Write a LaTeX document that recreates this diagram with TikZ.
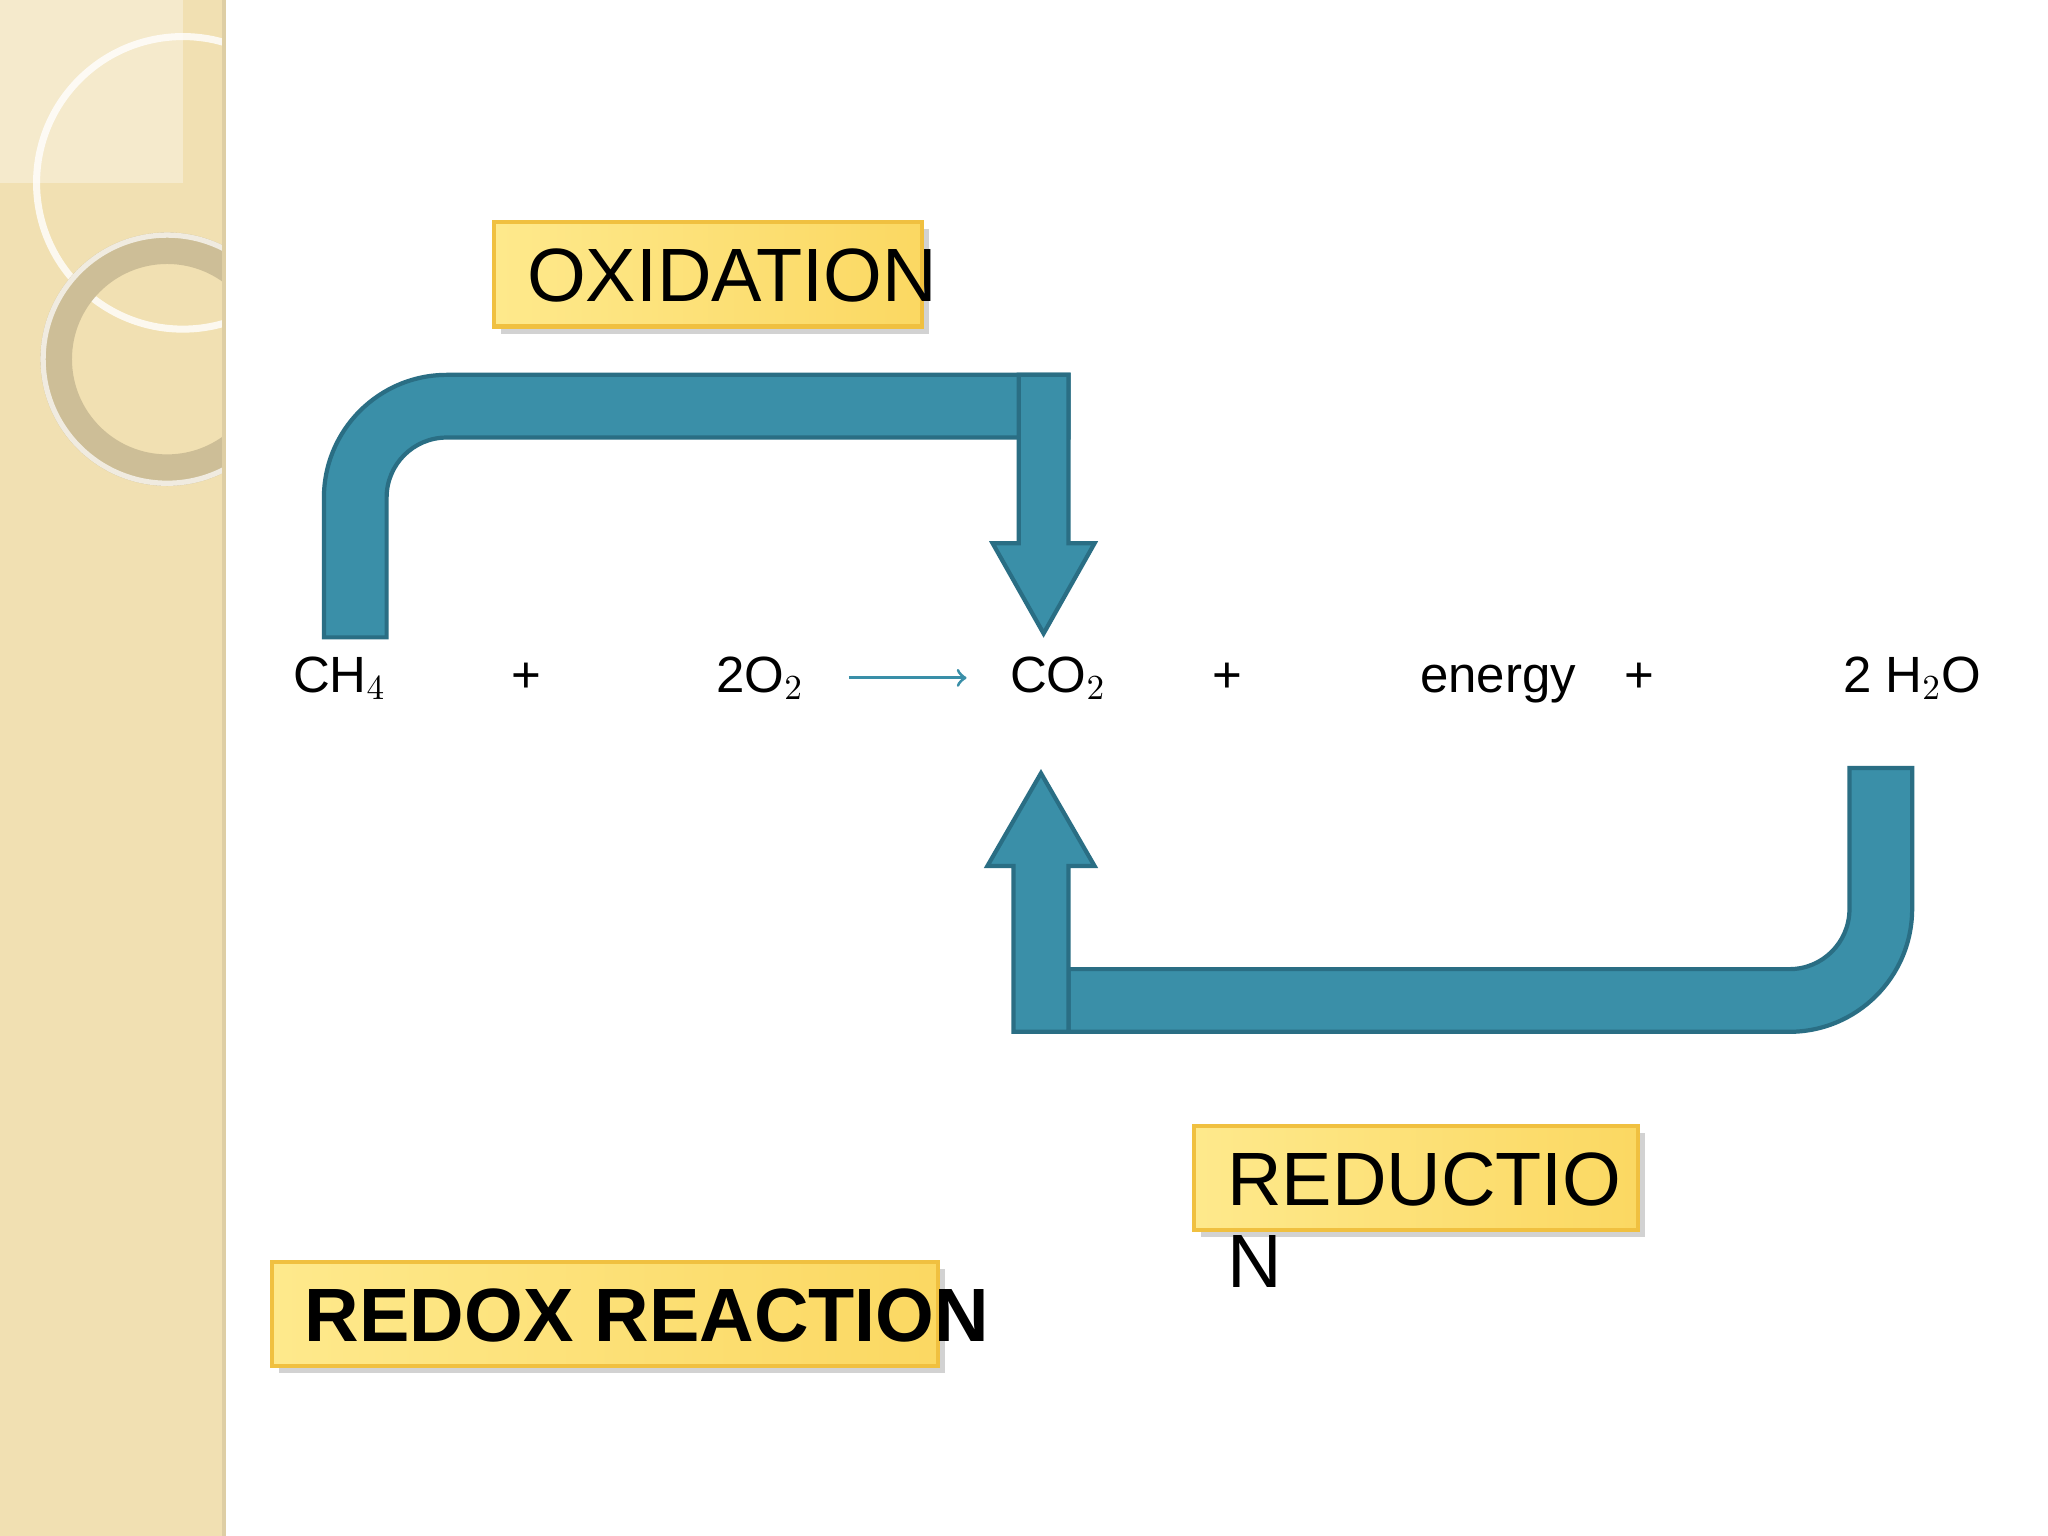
\documentclass[tikz,border=0pt]{standalone}
\usepackage{fontspec}
\setmainfont{Liberation Sans}
\usetikzlibrary{shadows}
\definecolor{teal1}{HTML}{3A8FA8}
\definecolor{teal2}{HTML}{2A6E84}
\definecolor{beige}{HTML}{F1E0B2}
\definecolor{ybox}{HTML}{FEE98C}
\definecolor{ybox2}{HTML}{FBD862}
\definecolor{yborder}{HTML}{F0C040}
\tikzset{
 band/.style={fill=teal1,draw=teal2,line width=1.2pt,line join=miter},
 lbl/.style={draw=yborder,line width=1.2pt,left color=ybox,right color=ybox2,drop shadow={opacity=0.35,shadow xshift=2pt,shadow yshift=-2pt}},
 chem/.style={anchor=base,font=\fontsize{14.5}{16}\selectfont},
 big/.style={font=\fontsize{21.5}{24}\selectfont}
}
\begin{document}
\begin{tikzpicture}[x=0.01306cm,y=-0.01306cm]
\useasboundingbox (0,0) rectangle (1568,1176);
\fill[white] (0,0) rectangle (1568,1176);
% left strip
\begin{scope}
\clip (0,0) rectangle (173,1176);
\fill[beige] (0,0) rectangle (173,1176);
\fill[white,opacity=0.35] (0,0) rectangle (140,140);
\draw[white,opacity=0.8,line width=2pt] (140,140) circle (112);
\draw[color=black!15!beige,line width=9pt] (128,275) circle (85);
\draw[white,opacity=0.7,line width=1.5pt] (128,275) circle (95);
\end{scope}
\fill[black!8!beige] (170,0) rectangle (173,1176);
% top arrow
\path[band] (248,488) [rounded corners=1.23cm]-- (248,287) [sharp corners]-- (818,287) -- (818,335) -- (780,335)
  [rounded corners=0.6cm] -- (296,335) [sharp corners] -- (296,488) -- cycle;
\path[band] (780,287) -- (818,287) -- (818,416) -- (838,416) -- (799,485) -- (760,416) -- (780,416) -- cycle;
% bottom arrow
\path[band] (1464,588) [rounded corners=1.23cm]-- (1464,790) [sharp corners]-- (818,790) -- (818,742)
  [rounded corners=0.6cm] -- (1416,742) [sharp corners] -- (1416,588) -- cycle;
\path[band] (776,790) -- (818,790) -- (818,663) -- (838,663) -- (797,592) -- (756,663) -- (776,663) -- cycle;
% equation
\node[chem] (ch4) at (260,530) {CH$_4$};
\node[chem] (p1) at (403,530) {+};
\node[chem] (o2) at (582,530) {2O$_2$};
\node[chem] (co2) at (810,530) {CO$_2$};
\node[chem] (p2) at (940,530) {+};
\node[chem] (en) at (1147,530) {energy};
\node[chem] (p3) at (1255,530) {+};
\node[chem] (h2o) at (1464,530) {2 H$_2$O};
\coordinate (a1) at (650,519);
\coordinate (a2) at (740,519);
\draw[teal1,line width=0.9pt,->] (a1) -- (a2);
% labels
\path[lbl] (378,170) rectangle (706,250);
\node[big,anchor=west] (ox) at (394,211) {OXIDATION};
\path[lbl] (914,862) rectangle (1254,942);
\node[big,anchor=west] (red) at (930,903) {REDUCTIO};
\node[big,anchor=west] (n) at (930,966) {N};
\path[lbl] (208,966) rectangle (718,1046);
\node[big,anchor=west,font=\bfseries\fontsize{21.5}{24}\selectfont] (rr) at (224,1007) {REDOX REACTION};
\end{tikzpicture}
\end{document}
